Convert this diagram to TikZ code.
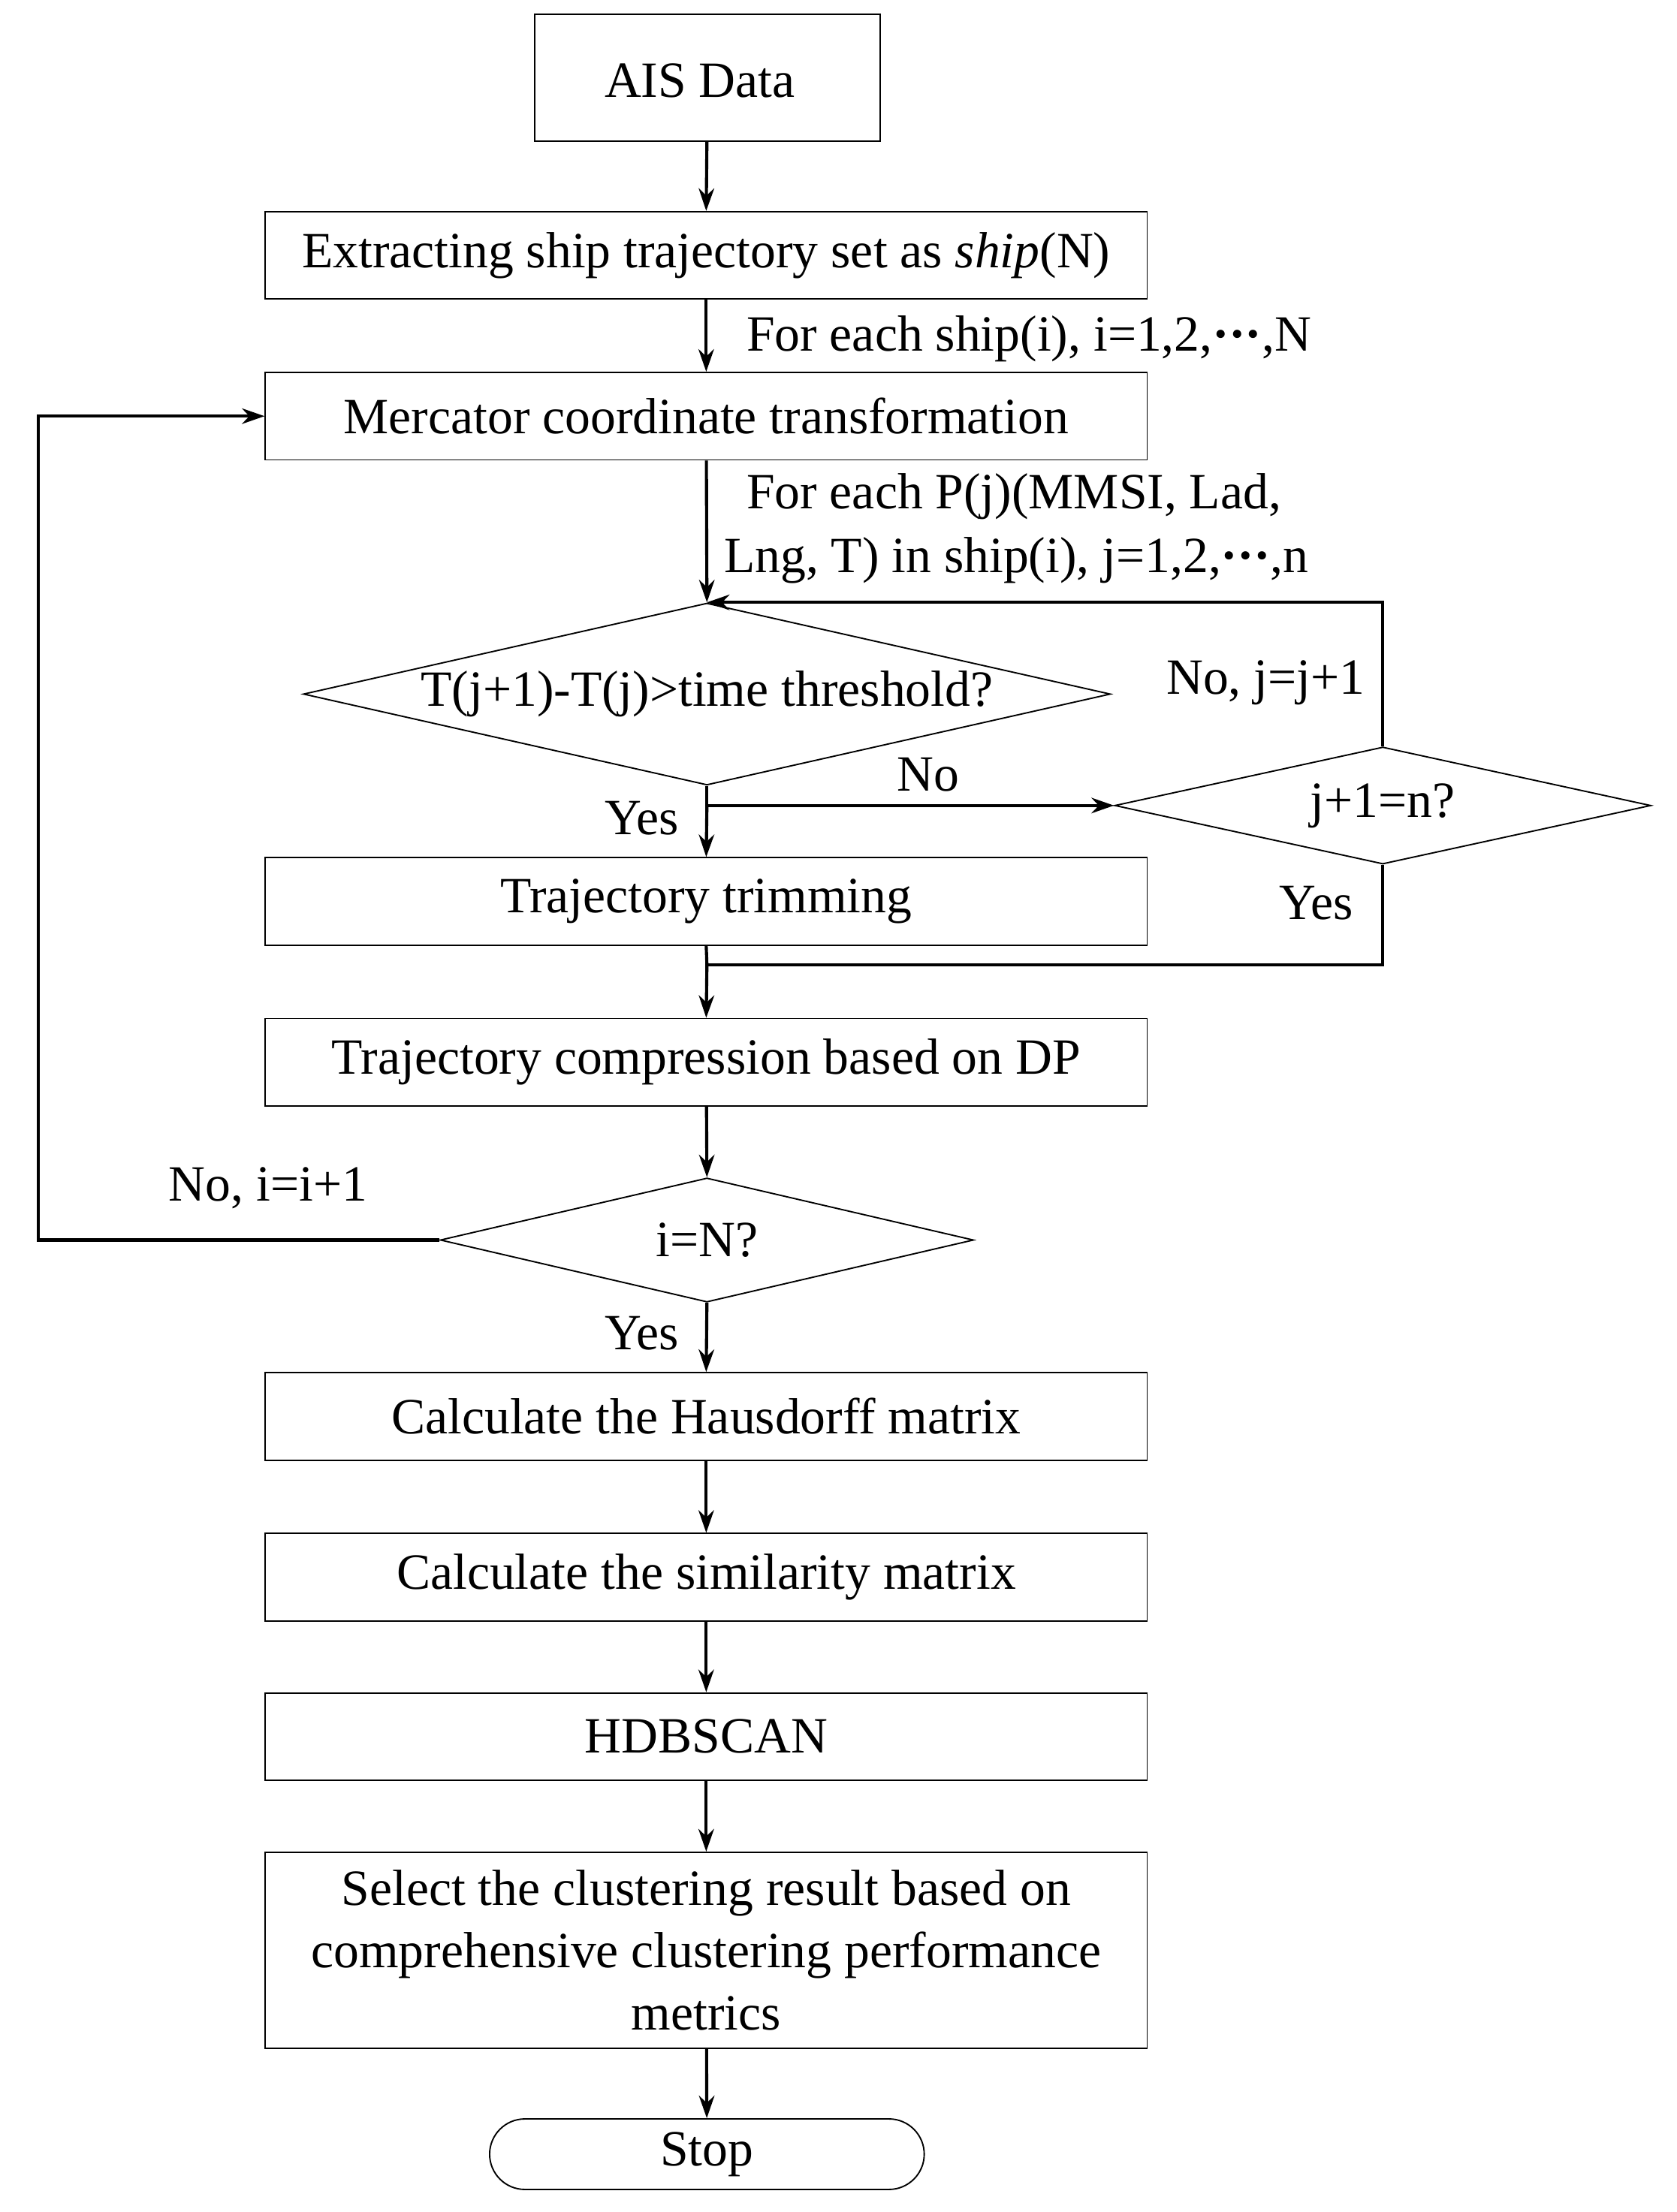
\documentclass[tikz,border=0pt]{standalone}
\usepackage{fontspec}
\setmainfont{Liberation Serif}
\usetikzlibrary{shapes.geometric,arrows.meta}
\newcommand{\mydots}{\textbf{\textperiodcentered\kern-0.5pt\textperiodcentered\kern-0.5pt\textperiodcentered}}
\begin{document}
\begin{tikzpicture}[x=1pt,y=-1pt,line width=2.2pt,
  every node/.style={font=\fontsize{36}{44}\selectfont},
  box/.style={draw,line width=1pt,minimum width=625pt,minimum height=62pt,inner sep=0pt},
  dia/.style={draw,line width=1pt,diamond,inner sep=0pt},
  arr/.style={-{Stealth[length=16pt,width=11pt]}},
  lbl/.style={inner sep=0pt}]
\useasboundingbox (0,0) rectangle (1188,1568);
% cylinder
\node[draw,line width=1pt,cylinder,shape aspect=0.27,minimum width=90pt,minimum height=245pt,inner sep=0pt] (ais) at (501,55) {};
\node at (496,57) {AIS Data};
\node[box] (b1) at (500.5,181) {Extracting ship trajectory set as \textit{ship}(N)};
\node[box] (b2) at (500.5,295) {Mercator coordinate transformation};
\node[dia,minimum width=572pt,minimum height=129pt] (d1) at (501,492) {};
\node at (501,492) {T(j+1)-T(j)>time threshold?};
\node[dia,minimum width=380pt,minimum height=83pt] (d2) at (980,571) {};
\node at (980,571) {j+1=n?};
\node[box] (b3) at (500.5,639) {Trajectory trimming};
\node[box] (b4) at (500.5,753) {Trajectory compression based on DP};
\node[dia,minimum width=378pt,minimum height=88pt] (d3) at (501,879) {};
\node at (501,879) {i=N?};
\node[box] (b5) at (500.5,1004) {Calculate the Hausdorff matrix};
\node[box] (b6) at (500.5,1118) {Calculate the similarity matrix};
\node[box] (b7) at (500.5,1231) {HDBSCAN};
\node[box,minimum height=139pt,align=center] (b8) at (500.5,1382.5) {Select the clustering result based on\\comprehensive clustering performance\\metrics};
\node[draw,line width=1pt,rounded corners=25pt,minimum width=308pt,minimum height=50pt] (stop) at (501,1527) {Stop};
% labels
\node[lbl,anchor=west] at (528,240) {For each ship(i), i=1,2,\mydots,N};
\node[lbl,anchor=west] at (528,352) {For each P(j)(MMSI, Lad,};
\node[lbl,anchor=west] at (512,397) {Lng, T) in ship(i), j=1,2,\mydots,n};
\node[lbl] at (658,549) {No};
\node[lbl] at (455,580) {Yes};
\node[lbl] at (897,484) {No, j=j+1};
\node[lbl] at (933,640) {Yes};
\node[lbl] at (190,842) {No, i=i+1};
\node[lbl] at (455,945) {Yes};
% connectors
\draw[arr] (ais.south) -- (b1.north);
\draw[arr] (b1) -- (b2);
\draw[arr] (b2) -- (d1.north);
\draw (d1.south) -- (501,571);
\draw[arr] (501,571) -- (d2.west);
\draw[arr] (501,571) -- (b3.north);
\draw[arr] (d2.north) |- (d1.north);
\draw (d2.south) |- (501,684);
\draw (b3.south) -- (501,684);
\draw[arr] (501,684) -- (b4.north);
\draw[arr] (b4) -- (d3.north);
\draw[arr] (d3.west) -- (27,879) |- (b2.west);
\draw[arr] (d3.south) -- (b5.north);
\draw[arr] (b5) -- (b6);
\draw[arr] (b6) -- (b7);
\draw[arr] (b7) -- (b8);
\draw[arr] (b8) -- (stop);
\end{tikzpicture}
\end{document}
